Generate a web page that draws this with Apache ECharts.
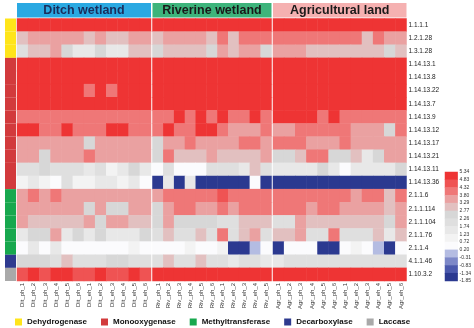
<!DOCTYPE html>
<html lang="en">
<head>
<meta charset="UTF-8">
<title>Enzyme heatmap</title>
<script src="https://cdn.jsdelivr.net/npm/echarts@6/dist/echarts.min.js"></script>
<style>
html,body{margin:0;padding:0;background:#fff;}
#main{width:474px;height:328px;}
</style>
</head>
<body>
<div id="main"></div>
<script>
// rows of the heatmap (EC numbers), top to bottom
var enzymes = ['1.1.1.1','1.2.1.28','1.3.1.28','1.14.13.1','1.14.13.8','1.14.13.22','1.14.13.7',
  '1.14.13.9','1.14.13.12','1.14.13.17','1.14.13.21','1.14.13.11','1.14.13.36','2.1.1.6',
  '2.1.1.114','2.1.1.104','2.1.1.76','2.1.1.4','4.1.1.46','1.10.3.2'];
// enzyme class of each row (index into classNames)
var enzymeClass = [0,0,0,1,1,1,1,1,1,1,1,1,1,2,2,2,2,2,3,4];
var classNames = ['Dehydrogenase','Monooxygenase','Methyltransferase','Decarboxylase','Laccase'];
var classColors = ['#ffe51a','#d23a3c','#17a84e','#2e3a8f','#a9a9a9'];

var ditchCols = ['Dit_ph_1','Dit_ph_2','Dit_ph_3','Dit_ph_4','Dit_ph_5','Dit_ph_6',
  'Dit_eh_1','Dit_eh_2','Dit_eh_3','Dit_eh_4','Dit_eh_5','Dit_eh_6'];
var riverCols = ['Riv_ph_1','Riv_ph_2','Riv_ph_3','Riv_ph_4','Riv_ph_5','Riv_ph_6',
  'Riv_eh_1','Riv_eh_2','Riv_eh_3','Riv_eh_4','Riv_eh_5'];
var agriCols = ['Agr_ph_1','Agr_ph_2','Agr_ph_3','Agr_ph_4','Agr_ph_5','Agr_ph_6',
  'Agr_eh_1','Agr_eh_2','Agr_eh_3','Agr_eh_4','Agr_eh_5','Agr_eh_6'];

// log abundance, one row per enzyme
var ditchValues = [
  [5.0,5.1,5.0,5.0,5.1,5.0,5.0,5.1,5.0,4.9,5.0,5.0],
  [3.0,3.5,3.5,3.5,3.5,3.5,2.9,3.5,3.0,3.0,3.5,3.5],
  [2.0,3.0,3.0,3.5,2.5,1.5,1.5,2.6,1.5,1.5,3.0,3.0],
  [5.0,5.2,5.0,5.2,5.2,5.0,5.0,5.2,5.0,5.0,5.0,5.0],
  [5.0,5.0,5.1,5.0,5.0,5.0,5.0,5.0,5.1,5.0,5.0,5.0],
  [5.0,5.0,5.0,5.0,5.0,5.0,4.1,5.0,4.1,5.0,5.0,5.0],
  [5.0,5.1,5.0,5.0,5.0,5.1,5.0,5.0,5.0,5.0,5.1,5.0],
  [4.0,4.0,4.1,4.0,4.0,4.0,4.1,4.0,4.0,4.0,4.0,4.1],
  [5.0,5.0,4.0,4.0,5.0,4.0,4.0,4.0,5.0,5.0,4.0,4.0],
  [3.5,3.5,3.5,3.5,3.5,3.5,2.5,3.5,3.5,3.5,3.5,3.5],
  [3.5,3.5,2.5,3.5,3.5,3.5,4.1,3.5,3.5,3.5,3.5,3.5],
  [2.0,2.0,2.5,2.0,2.0,2.0,1.5,2.0,1.0,1.5,2.5,1.5],
  [1.0,1.5,1.0,0.5,2.0,1.0,1.0,1.5,1.5,1.0,1.5,0.5],
  [3.5,4.1,3.5,4.1,3.5,3.5,3.5,3.5,3.5,3.5,3.5,3.5],
  [3.5,3.5,3.5,3.5,3.5,3.5,2.5,3.5,2.5,2.5,3.5,3.5],
  [3.5,3.0,3.0,3.0,3.0,3.0,3.5,2.5,3.5,3.5,3.0,3.0],
  [1.5,2.5,2.5,3.5,1.5,2.5,1.5,2.5,1.5,1.5,1.5,2.5],
  [0.5,1.5,0.5,1.5,0.5,0.5,0.5,0.5,0.5,0.5,1.0,0.5],
  [2.5,2.5,2.5,2.0,3.0,2.0,2.0,2.0,2.5,2.5,2.0,2.0],
  [4.6,5.0,4.6,5.0,5.0,4.6,4.6,5.0,4.6,4.6,5.0,4.6]
];
var riverValues = [
  [5.0,5.0,5.0,5.0,5.0,5.0,5.0,5.0,5.0,5.0,5.0],
  [3.0,3.6,3.6,3.6,3.6,3.0,4.1,3.0,4.0,4.0,4.0],
  [2.5,3.0,3.0,3.0,3.0,2.5,3.5,3.0,3.5,3.5,2.5],
  [5.0,5.0,5.1,5.0,5.0,5.0,5.1,5.0,5.0,5.0,5.0],
  [5.0,5.0,5.0,5.0,5.1,5.0,5.0,5.0,5.0,5.0,5.0],
  [5.0,5.1,5.0,5.0,5.0,5.0,5.0,5.1,5.0,5.0,5.0],
  [5.0,5.0,5.0,5.0,5.0,5.0,5.0,5.0,5.0,5.0,5.0],
  [4.0,4.0,5.0,4.0,5.0,4.0,5.0,4.0,4.0,5.0,4.0],
  [4.0,5.0,4.0,4.0,5.0,5.0,4.0,3.5,3.5,3.5,4.0],
  [2.5,3.5,3.5,4.0,3.5,3.5,3.5,3.5,4.0,4.0,3.5],
  [2.5,4.1,3.0,3.0,3.0,3.5,3.0,3.0,3.0,3.0,3.5],
  [0.5,2.0,0.5,0.5,0.5,2.0,2.0,2.0,1.5,3.0,2.0],
  [-1.6,1.5,-1.6,1.5,-1.6,-1.6,-1.6,-1.6,-1.6,0.5,-1.6],
  [3.5,4.0,4.0,4.0,4.0,4.0,4.6,4.0,4.0,4.0,4.0],
  [2.5,3.5,4.0,4.0,3.5,3.5,4.0,3.5,4.0,4.0,4.0],
  [2.5,3.5,2.5,2.5,2.5,2.5,2.0,2.0,3.0,3.0,3.0],
  [2.0,3.0,2.0,2.0,3.0,2.0,4.0,2.0,3.0,3.5,2.0],
  [0.5,0.5,0.5,1.0,0.5,0.5,1.0,-1.6,-1.6,0.0,0.5],
  [2.0,3.0,2.0,2.0,3.0,2.0,2.0,1.5,2.0,2.0,1.5],
  [5.0,5.0,5.0,5.0,5.0,5.0,4.9,5.1,5.0,5.1,5.0]
];
var agriValues = [
  [5.0,5.0,5.0,5.0,5.0,5.0,5.0,5.0,5.0,5.0,5.0,5.0],
  [4.0,4.0,4.0,4.0,4.0,4.0,4.0,4.0,3.0,4.1,3.5,3.5],
  [3.5,3.5,3.5,3.0,3.0,3.0,3.0,3.0,3.0,3.0,2.5,3.0],
  [5.0,5.0,5.0,5.0,5.0,5.0,5.0,5.0,5.0,5.0,5.0,5.0],
  [5.0,5.0,5.0,5.0,5.0,5.0,5.0,5.0,5.0,5.0,5.0,5.0],
  [5.0,5.0,5.0,5.0,5.0,5.0,5.0,5.0,5.0,5.0,5.0,5.0],
  [5.0,5.0,5.0,5.0,5.0,5.0,5.0,5.0,5.0,5.0,5.0,5.0],
  [5.0,5.0,5.0,5.0,4.0,5.0,4.0,4.0,4.0,4.0,4.0,4.0],
  [3.5,3.5,4.0,4.0,4.0,4.0,4.0,3.5,3.5,3.5,2.5,4.0],
  [4.0,4.0,4.0,3.5,3.5,3.5,4.0,3.5,3.5,3.5,3.5,3.5],
  [2.5,2.5,3.0,4.0,4.0,2.5,2.5,3.0,1.5,2.5,3.5,3.5],
  [1.5,1.5,1.5,1.5,2.5,1.5,0.5,1.5,1.5,1.5,1.5,2.5],
  [-1.6,-1.6,-1.6,-1.6,-1.6,-1.6,-1.6,-1.6,-1.6,-1.6,-1.6,-1.6],
  [4.0,4.0,4.0,4.0,4.0,4.0,4.0,3.5,4.0,4.0,3.0,4.0],
  [4.0,4.0,4.0,3.5,4.0,4.0,3.5,3.5,3.5,3.5,3.0,3.5],
  [2.0,2.0,3.5,3.0,3.0,3.0,3.0,3.0,3.0,3.0,2.5,3.5],
  [3.0,3.0,3.5,2.0,2.0,4.0,2.0,2.0,2.0,3.0,1.5,3.0],
  [-1.6,0.5,0.5,0.5,-1.6,-1.6,0.5,1.0,0.5,0.0,-1.6,0.5],
  [1.5,2.0,2.0,2.0,2.0,2.0,2.0,2.0,2.0,2.0,2.0,2.0],
  [5.0,5.0,5.0,5.0,5.0,5.0,5.0,5.0,5.0,5.0,5.0,5.0]
];

// colour key breaks, high to low
var keyTicks = [5.34,4.83,4.32,3.80,3.29,2.77,2.26,1.74,1.23,0.72,0.20,-0.31,-0.83,-1.34,-1.85];
var keyColors = ['#ee3434','#ef5353','#ef7777','#eaa1a1','#e2c0c0','#d7d7d7','#dfdfdf',
  '#e8e8e8','#f3f3f3','#fbfbfd','#b4bce2','#7d88c8','#4b59ad','#2b3990'];

var font = 'Liberation Sans';
var chart = echarts.init(document.getElementById('main'));

function cells(matrix) {
  var out = [];
  matrix.forEach(function (row, i) {
    row.forEach(function (v, j) { out.push([j, i, v]); });
  });
  return out;
}

var pieces = [];
var keyCells = [];
var keyCats = [];
for (var k = 0; k < keyColors.length; k++) {
  pieces.push({ min: keyTicks[k + 1], max: keyTicks[k], color: keyColors[k] });
  keyCats.push('k' + k);
  keyCells.push([0, k, (keyTicks[k] + keyTicks[k + 1]) / 2]);
}

var gridTop = 18.5, gridHeight = 262.5;
var groups = [
  { name: 'Ditch wetland', cols: ditchCols, values: ditchValues, left: 17, width: 134, bg: '#2aa9e2', fg: '#1b2d5c' },
  { name: 'Riverine wetland', cols: riverCols, values: riverValues, left: 152.5, width: 119, bg: '#3db47b', fg: '#1a1a1a' },
  { name: 'Agricultural land', cols: agriCols, values: agriValues, left: 273, width: 133.5, bg: '#f5b1b1', fg: '#1a1a1a' }
];

var grid = [{ left: 5, top: gridTop, width: 11, height: gridHeight }];
var xAxis = [{ type: 'value', gridIndex: 0, min: 0, max: 1, show: false }];
var yAxis = [{ type: 'category', gridIndex: 0, data: enzymes, inverse: true, show: false }];
var series = [];

// class strip on the left, also feeds the legend
classNames.forEach(function (name, c) {
  series.push({
    name: name, type: 'bar', stack: 'cls', xAxisIndex: 0, yAxisIndex: 0,
    barWidth: '100%', itemStyle: { color: classColors[c] }, silent: true,
    data: enzymeClass.map(function (e) { return e === c ? 1 : '-'; })
  });
});

var graphics = [];
groups.forEach(function (g, gi) {
  var idx = gi + 1;
  grid.push({ left: g.left, top: gridTop, width: g.width, height: gridHeight });
  xAxis.push({
    type: 'category', gridIndex: idx, data: g.cols, position: 'bottom',
    axisLine: { show: false }, axisTick: { show: false }, splitLine: { show: false },
    axisLabel: { rotate: 90, interval: 0, fontSize: 6, margin: 2, color: '#333', fontFamily: font }
  });
  yAxis.push({
    type: 'category', gridIndex: idx, data: enzymes, inverse: true, position: 'right',
    axisLine: { show: false }, axisTick: { show: false }, splitLine: { show: false },
    axisLabel: { show: gi === 2, fontSize: 6.5, margin: 2, color: '#222', fontFamily: font }
  });
  series.push({
    type: 'heatmap', xAxisIndex: idx, yAxisIndex: idx, data: cells(g.values),
    silent: true, emphasis: { disabled: true }
  });
  graphics.push({
    type: 'group', left: g.left, top: 3,
    children: [
      { type: 'rect', shape: { x: 0, y: 0, width: g.width, height: 14.5 }, style: { fill: g.bg } },
      { type: 'text', x: g.width / 2, y: 7.5, style: {
        text: g.name, fill: g.fg, font: 'bold 12.5px "' + font + '"', align: 'center', verticalAlign: 'middle' } }
    ]
  });
});

// colour key: top piece is the highest value
grid.push({ left: 445, top: 172, width: 14, height: 109 });
xAxis.push({ type: 'category', gridIndex: 4, data: ['key'], show: false });
yAxis.push({ type: 'category', gridIndex: 4, data: keyCats, inverse: true, show: false });
yAxis.push({
  type: 'value', gridIndex: 4, min: -1.85, max: 5.34, position: 'right',
  axisLine: { show: false }, axisTick: { show: false }, splitLine: { show: false },
  axisLabel: { customValues: keyTicks, fontSize: 5, margin: 2, color: '#333', fontFamily: font,
    formatter: function (v) { return v.toFixed(2); } }
});
series.push({
  type: 'heatmap', xAxisIndex: 4, yAxisIndex: 4, data: keyCells,
  silent: true, emphasis: { disabled: true }
});

var option = {
  animation: false,
  backgroundColor: '#fff',
  grid: grid,
  xAxis: xAxis,
  yAxis: yAxis,
  visualMap: {
    type: 'piecewise', show: false, seriesIndex: [5, 6, 7, 8], pieces: pieces
  },
  legend: {
    data: classNames, left: 10, top: 313, icon: 'rect', itemWidth: 7, itemHeight: 7,
    itemGap: 14, itemStyle: { borderWidth: 0 }, selectedMode: false,
    textStyle: { fontSize: 8, fontWeight: 'bold', color: '#111', fontFamily: font }
  },
  graphic: graphics,
  series: series
};
chart.setOption(option);
</script>
</body>
</html>
